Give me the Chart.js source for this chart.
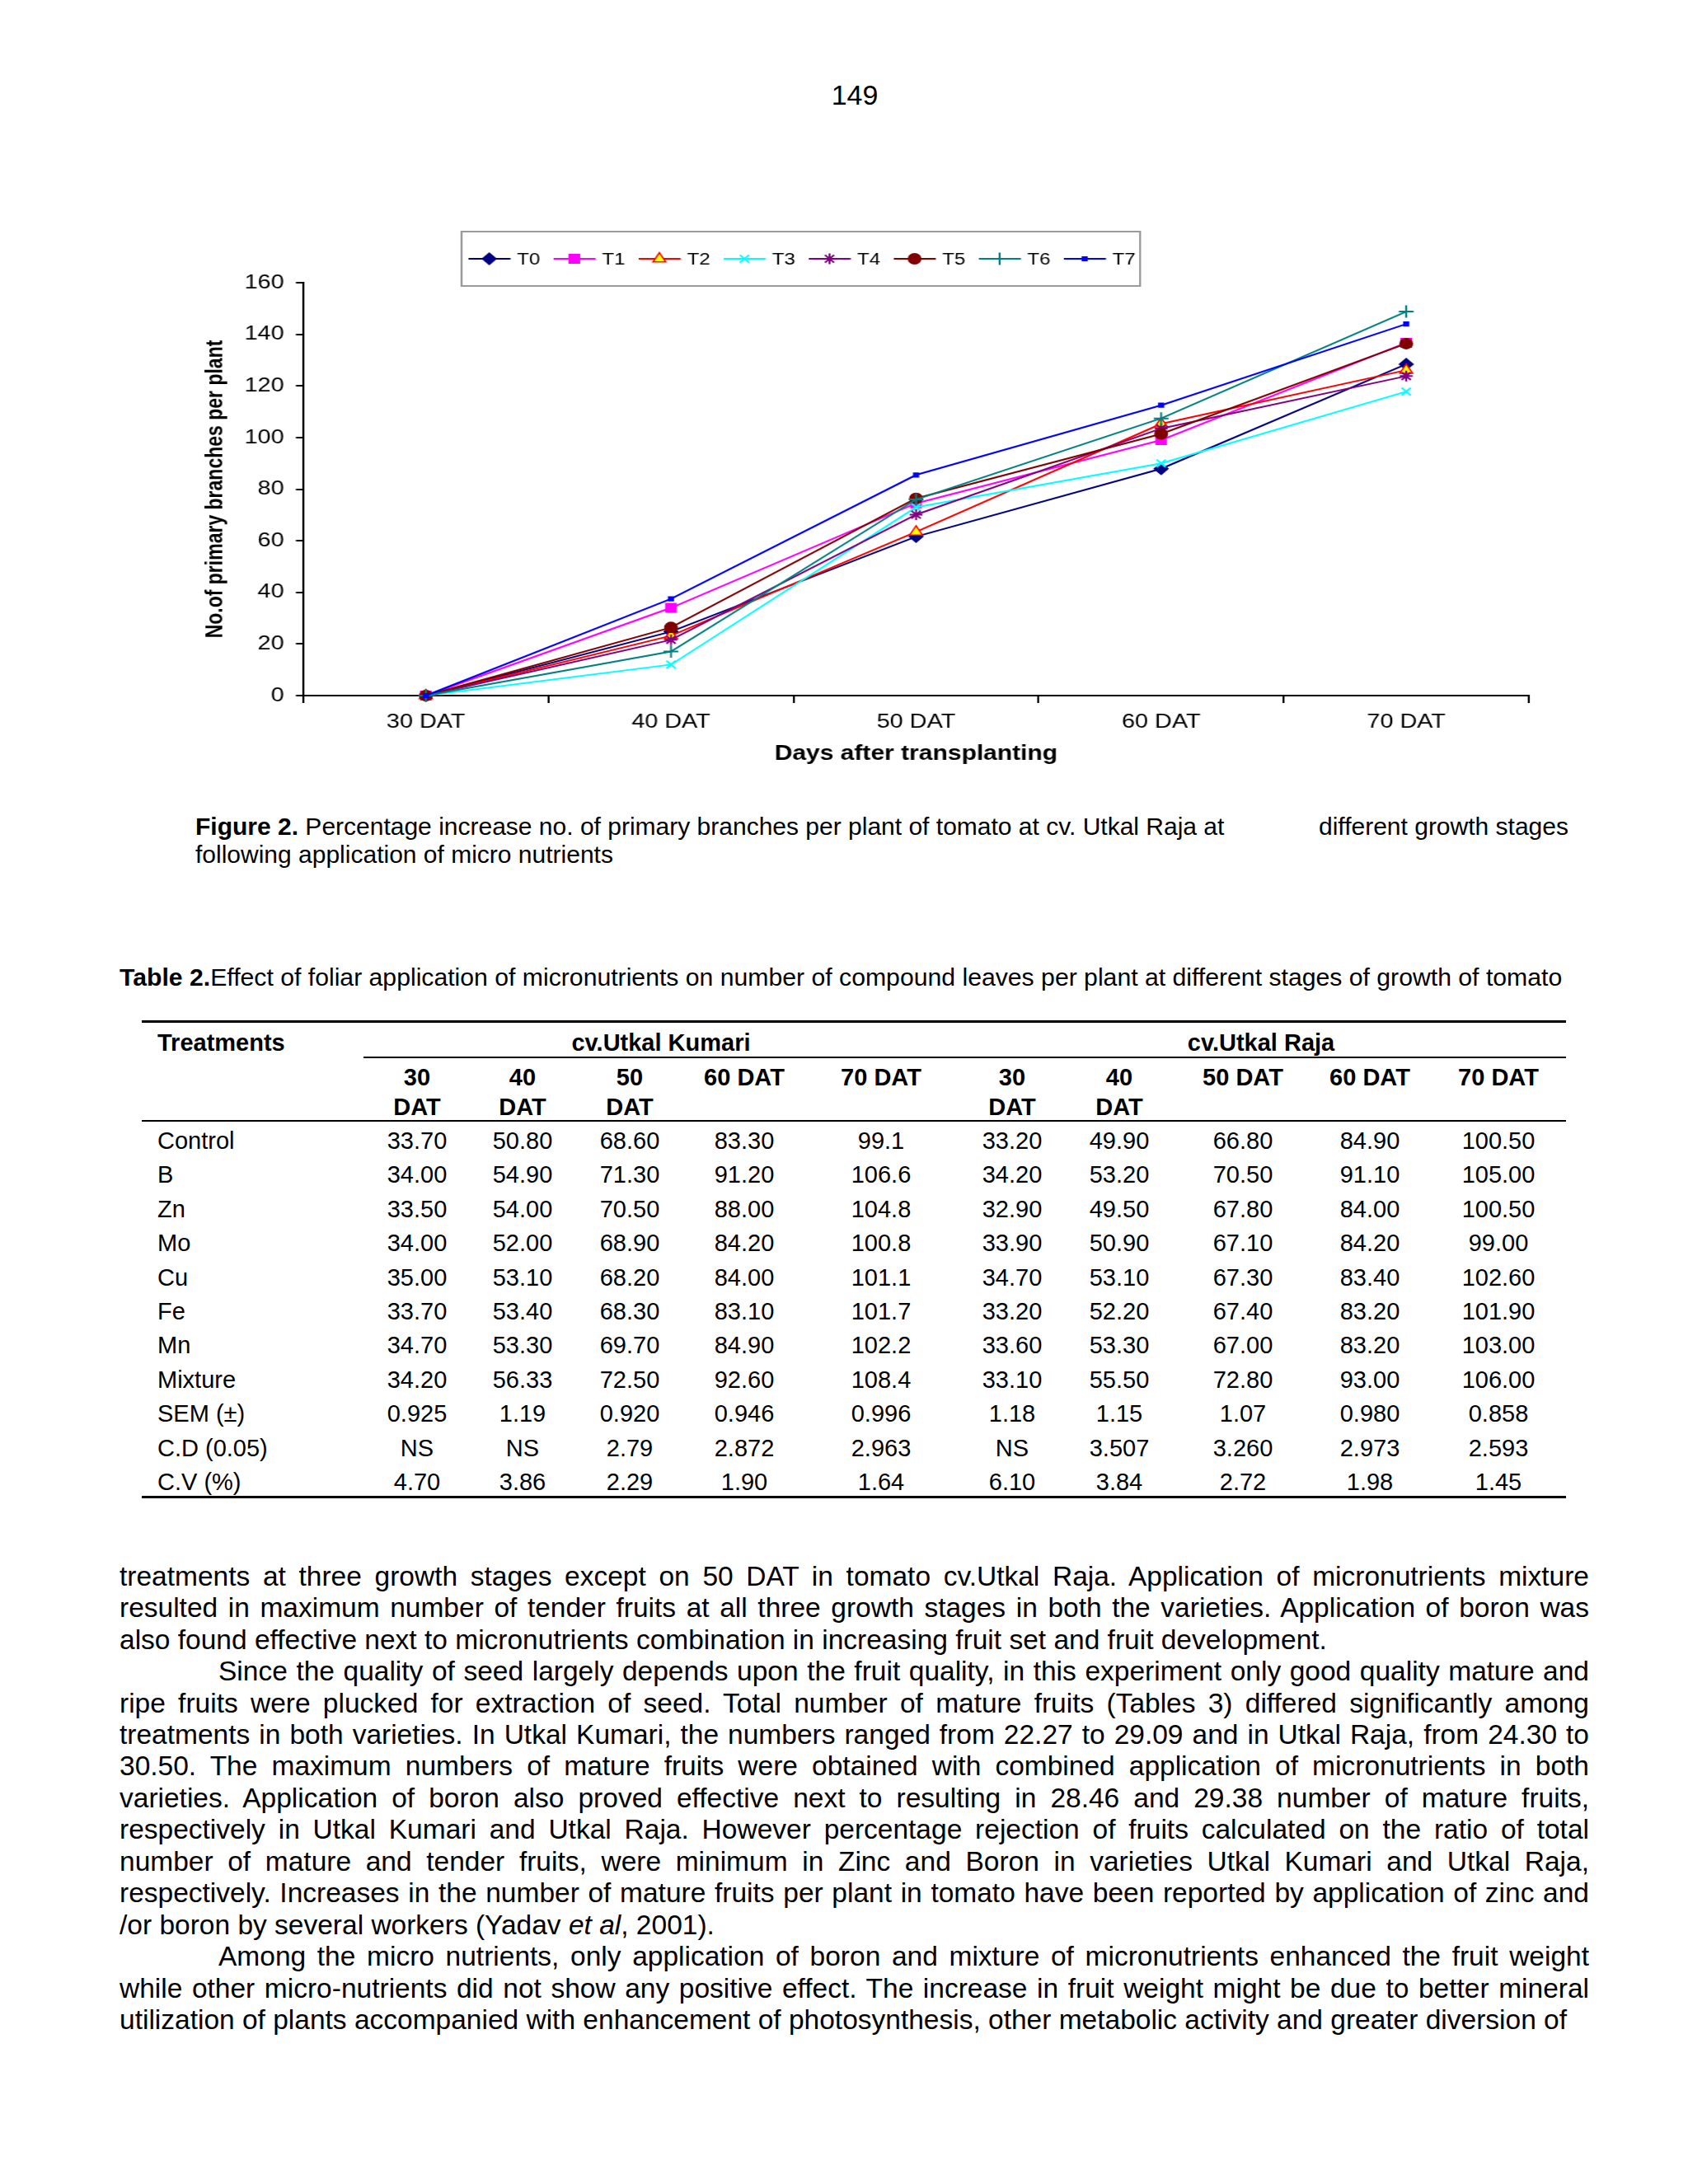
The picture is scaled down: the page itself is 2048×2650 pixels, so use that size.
<!DOCTYPE html>
<html>
<head>
<meta charset="utf-8">
<script src="https://cdn.jsdelivr.net/npm/chart.js@4.4.1/dist/chart.umd.min.js"></script>
<style>
  html, body { margin: 0; padding: 0; background: #fff; }
  #page { position: relative; width: 2048px; height: 2650px; overflow: hidden;
          font-family: 'Liberation Sans', Arial, sans-serif; color: #000; }
  .t { position: absolute; white-space: nowrap; line-height: 1; transform: translateY(-50%); }
  .c { transform: translate(-50%, -50%); text-align: center; }
  .rule { position: absolute; background: #000; }
  .body-line { position: absolute; left: 145px; width: 1783px; font-size: 33.5px; line-height: 38.5px;
               white-space: nowrap; }
  .j { text-align: justify; text-align-last: justify; }
  #chartBox { position: absolute; left: 230px; top: 260px; }
</style>
</head>
<body>
<div id="page">
  <div class="t c" style="left:1037px; top:115px; font-size:34px;">149</div>

  <div id="chartBox"><canvas id="chart" width="1375" height="680" style="width:1650px;height:680px;display:block"></canvas></div>

  <div class="t" style="left:237px; top:1003px; font-size:30px;"><b>Figure 2.</b> Percentage increase no. of primary branches per plant of tomato at cv. Utkal Raja at</div>
  <div class="t" style="left:1600px; top:1003px; font-size:30px;">different growth stages</div>
  <div class="t" style="left:237px; top:1037px; font-size:30px;">following application of micro nutrients</div>

  <div class="t" style="left:145px; top:1186px; font-size:30.2px;"><b>Table 2.</b>Effect of foliar application of micronutrients on number of compound leaves per plant at different stages of growth of tomato</div>

  <div id="table"></div>
  <div id="bodyText"></div>
</div>

<script>
'use strict';

// ─── Chart data ───────────────────────────────────────────────────────────────
const categories = ['30 DAT', '40 DAT', '50 DAT', '60 DAT', '70 DAT'];
const seriesNames = ['T0', 'T1', 'T2', 'T3', 'T4', 'T5', 'T6', 'T7'];
const T0 = [0, 24.8, 61.6, 87.9, 128.4];
const T1 = [0, 34.0, 74.5, 99.0, 136.7];
const T2 = [0, 23.2, 63.4, 105.3, 126.1];
const T3 = [0, 12.0, 73.0, 90.0, 117.8];
const T4 = [0, 21.6, 70.1, 103.5, 123.8];
const T5 = [0, 26.4, 76.4, 101.4, 136.4];
const T6 = [0, 17.1, 76.0, 107.4, 148.8];
const T7 = [0, 37.5, 85.5, 112.5, 144.0];
const seriesValues = [T0, T1, T2, T3, T4, T5, T6, T7];
const yTicks = [0, 20, 40, 60, 80, 100, 120, 140, 160];

// ─── Table data ───────────────────────────────────────────────────────────────
const tableTreatments = ['Control', 'B', 'Zn', 'Mo', 'Cu', 'Fe', 'Mn', 'Mixture', 'SEM (±)', 'C.D (0.05)', 'C.V (%)'];
const kumariValues = [
    ['33.70', '50.80', '68.60', '83.30', '99.1'],
    ['34.00', '54.90', '71.30', '91.20', '106.6'],
    ['33.50', '54.00', '70.50', '88.00', '104.8'],
    ['34.00', '52.00', '68.90', '84.20', '100.8'],
    ['35.00', '53.10', '68.20', '84.00', '101.1'],
    ['33.70', '53.40', '68.30', '83.10', '101.7'],
    ['34.70', '53.30', '69.70', '84.90', '102.2'],
    ['34.20', '56.33', '72.50', '92.60', '108.4'],
    ['0.925', '1.19', '0.920', '0.946', '0.996'],
    ['NS', 'NS', '2.79', '2.872', '2.963'],
    ['4.70', '3.86', '2.29', '1.90', '1.64'],
];
const rajaValues = [
    ['33.20', '49.90', '66.80', '84.90', '100.50'],
    ['34.20', '53.20', '70.50', '91.10', '105.00'],
    ['32.90', '49.50', '67.80', '84.00', '100.50'],
    ['33.90', '50.90', '67.10', '84.20', '99.00'],
    ['34.70', '53.10', '67.30', '83.40', '102.60'],
    ['33.20', '52.20', '67.40', '83.20', '101.90'],
    ['33.60', '53.30', '67.00', '83.20', '103.00'],
    ['33.10', '55.50', '72.80', '93.00', '106.00'],
    ['1.18', '1.15', '1.07', '0.980', '0.858'],
    ['NS', '3.507', '3.260', '2.973', '2.593'],
    ['6.10', '3.84', '2.72', '1.98', '1.45'],
];
const kumariHeads = [['30', 'DAT'], ['40', 'DAT'], ['50', 'DAT'], ['60 DAT'], ['70 DAT']];
const rajaHeads = [['30', 'DAT'], ['40', 'DAT'], ['50 DAT'], ['60 DAT'], ['70 DAT']];

const bodyLines = [
    ['j', 'treatments at three growth stages except on 50 DAT in tomato cv.Utkal Raja. Application of micronutrients mixture'],
    ['j', 'resulted in maximum number of tender fruits at all three growth stages in both the varieties. Application of boron was'],
    ['l', 'also found effective next to micronutrients combination in increasing fruit set and fruit development.'],
    ['ji', 'Since the quality of seed largely depends upon the fruit quality, in this experiment only good quality mature and'],
    ['j', 'ripe fruits were plucked for extraction of seed. Total number of mature fruits (Tables 3) differed significantly among'],
    ['j', 'treatments in both varieties. In Utkal Kumari, the numbers ranged from 22.27 to 29.09 and in Utkal Raja, from 24.30 to'],
    ['j', '30.50. The maximum numbers of mature fruits were obtained with combined application of micronutrients in both'],
    ['j', 'varieties. Application of boron also proved effective next to resulting in 28.46 and 29.38 number of mature fruits,'],
    ['j', 'respectively in Utkal Kumari and Utkal Raja. However percentage rejection of fruits calculated on the ratio of total'],
    ['j', 'number of mature and tender fruits, were minimum in Zinc and Boron in varieties Utkal Kumari and Utkal Raja,'],
    ['j', 'respectively. Increases in the number of mature fruits per plant in tomato have been reported by application of zinc and'],
    ['l', '/or boron by several workers (Yadav <i>et al</i>, 2001).'],
    ['ji', 'Among the micro nutrients, only application of boron and mixture of micronutrients enhanced the fruit weight'],
    ['j', 'while other micro-nutrients did not show any positive effect. The increase in fruit weight might be due to better mineral'],
    ['l', 'utilization of plants accompanied with enhancement of photosynthesis, other metabolic activity and greater diversion of'],
];

// ─── Chart ────────────────────────────────────────────────────────────────────
const COLORS = ['#000080', '#FF00FF', '#FF0000', '#00FFFF', '#800080', '#800000', '#008080', '#0000FF'];
const FILLS  = ['#000080', '#FF00FF', '#FFFF00', '#00FFFF', '#800080', '#800000', '#008080', '#0000FF'];
const STYLES = ['rectRot', 'rect', 'triangle', 'crossRot', 'star', 'circle', 'cross', 'rect'];
const RADII  = [6.5, 7, 7.5, 6.5, 6.5, 6, 7.5, 3];

Chart.defaults.font.family = "'Liberation Sans', Arial, sans-serif";
Chart.defaults.color = '#000';

// Excel-style boxed legend, line + marker per series
const boxedLegend = {
    id: 'boxedLegend',
    afterDraw(chart) {
        const ctx = chart.ctx;
        ctx.save();
        ctx.strokeStyle = '#9a9a9a';
        ctx.lineWidth = 2;
        ctx.strokeRect(275, 21, 686, 66);
        const y = 54;
        chart.data.datasets.forEach((ds, i) => {
            const x0 = 282 + i * 86;
            ctx.strokeStyle = ds.borderColor;
            ctx.lineWidth = 2;
            ctx.beginPath();
            ctx.moveTo(x0, y);
            ctx.lineTo(x0 + 42.5, y);
            ctx.stroke();
            ctx.fillStyle = ds.pointBackgroundColor;
            ctx.strokeStyle = ds.pointBorderColor;
            ctx.lineWidth = ds.pointBorderWidth;
            Chart.helpers.drawPoint(ctx, {
                pointStyle: ds.pointStyle, radius: ds.pointRadius, rotation: 0, borderWidth: ds.pointBorderWidth
            }, x0 + 21, y);
            ctx.fillStyle = '#000';
            ctx.font = "20px 'Liberation Sans', Arial, sans-serif";
            ctx.textBaseline = 'middle';
            ctx.fillText(ds.label, x0 + 49, y + 1);
        });
        ctx.restore();
    }
};

new Chart(document.getElementById('chart'), {
    type: 'line',
    data: {
        labels: categories,
        datasets: seriesNames.map((name, i) => ({
            label: name,
            data: seriesValues[i],
            borderColor: COLORS[i],
            borderWidth: 2,
            pointStyle: STYLES[i],
            pointRadius: RADII[i],
            pointBackgroundColor: FILLS[i],
            pointBorderColor: COLORS[i],
            pointBorderWidth: i === 2 ? 1.5 : 2,
            tension: 0,
            fill: false,
            clip: false,
            order: 7 - i,
        })),
    },
    options: {
        responsive: false,
        animation: false,
        devicePixelRatio: 1,
        layout: { padding: { top: 83, right: 21, bottom: 0, left: 0 } },
        plugins: { legend: { display: false }, tooltip: { enabled: false } },
        scales: {
            x: {
                offset: true,
                grid: { offset: true, drawOnChartArea: false, tickLength: 9, color: '#000', lineWidth: 2 },
                border: { color: '#000', width: 2 },
                ticks: { padding: 9, font: { size: 24 }, color: '#000', maxRotation: 0, autoSkip: false },
                title: { display: true, text: 'Days after transplanting', color: '#000',
                         font: { size: 25, weight: 'bold' }, padding: { top: 4, bottom: 10 } },
                afterFit: s => { s.height = 96; },
            },
            y: {
                min: 0, max: 160,
                afterBuildTicks: s => { s.ticks = yTicks.map(v => ({ value: v })); },
                grid: { drawOnChartArea: false, tickLength: 7.5, color: '#000', lineWidth: 2 },
                border: { color: '#000', width: 2 },
                ticks: { padding: 12, font: { size: 24 }, color: '#000' },
                title: { display: true, text: 'No.of primary branches per plant', color: '#000',
                         font: { size: 23, weight: 'bold' }, padding: { top: 13, bottom: 0 } },
                afterFit: s => { s.width = 115; },
            },
        },
    },
    plugins: [boxedLegend],
});

// ─── Table ────────────────────────────────────────────────────────────────────
(function buildTable() {
    const host = document.getElementById('table');
    const colX = [506, 634, 764, 903, 1069, 1228, 1358, 1508, 1662, 1818];
    const rowY0 = 1384, rowStep = 41.4;
    let html = '';
    const rule = (x, y, w, h) => `<div class="rule" style="left:${x}px;top:${y}px;width:${w}px;height:${h}px"></div>`;
    html += rule(172, 1238, 1728, 3);
    html += rule(441, 1282, 1459, 2);
    html += rule(172, 1359, 1728, 2);
    html += rule(172, 1815, 1728, 3);
    html += `<div class="t" style="left:191px;top:1265px;font-size:29px;font-weight:bold">Treatments</div>`;
    html += `<div class="t c" style="left:802px;top:1265px;font-size:29px;font-weight:bold">cv.Utkal Kumari</div>`;
    html += `<div class="t c" style="left:1530px;top:1265px;font-size:29px;font-weight:bold">cv.Utkal Raja</div>`;
    kumariHeads.concat(rajaHeads).forEach((h, i) => {
        h.forEach((line, k) => {
            html += `<div class="t c" style="left:${colX[i]}px;top:${1307 + k * 36}px;font-size:29px;font-weight:bold">${line}</div>`;
        });
    });
    tableTreatments.forEach((name, r) => {
        const y = rowY0 + r * rowStep;
        html += `<div class="t" style="left:191px;top:${y}px;font-size:29px">${name}</div>`;
        kumariValues[r].concat(rajaValues[r]).forEach((v, i) => {
            html += `<div class="t c" style="left:${colX[i]}px;top:${y}px;font-size:29px">${v}</div>`;
        });
    });
    host.innerHTML = html;
})();

// ─── Body text ────────────────────────────────────────────────────────────────
(function buildBody() {
    const host = document.getElementById('bodyText');
    host.innerHTML = bodyLines.map(([kind, text], i) => {
        const top = 1913 + i * 38.45 - 19.25;
        const cls = kind.startsWith('j') ? 'body-line j' : 'body-line';
        const indent = kind.endsWith('i') ? 'text-indent:120px;' : '';
        return `<div class="${cls}" style="top:${top}px;${indent}">${text}</div>`;
    }).join('');
})();
</script>
</body>
</html>
